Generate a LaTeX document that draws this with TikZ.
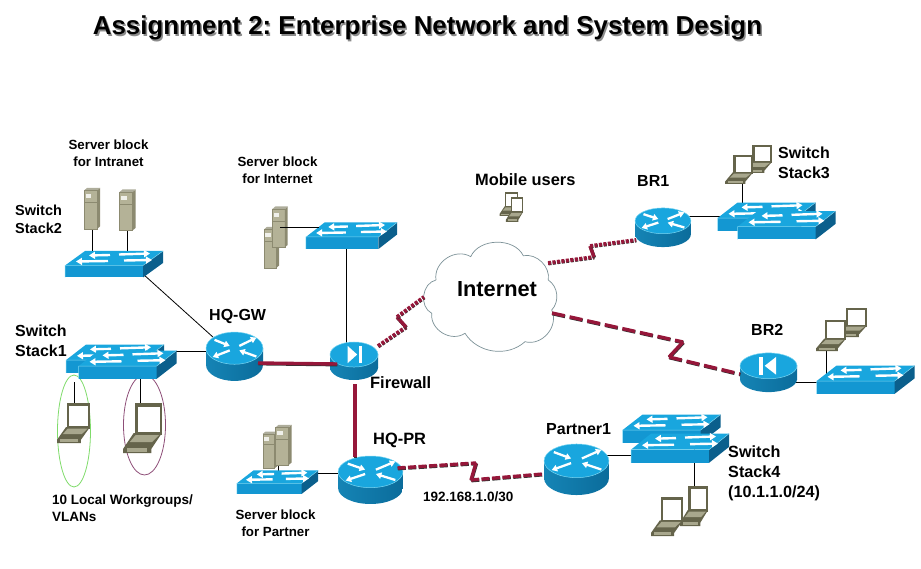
\documentclass[tikz,border=0pt]{standalone}
\usepackage{fontspec}
\setmainfont{Liberation Sans}
\usetikzlibrary{arrows.meta,backgrounds}

\definecolor{swtop}{HTML}{19A6DE}
\definecolor{swfront}{HTML}{1397D2}
\definecolor{swside}{HTML}{0B5F8C}
\definecolor{rim}{HTML}{7AD6F2}
\definecolor{rtleft}{HTML}{1584B5}
\definecolor{rtright}{HTML}{0B6C9B}
\definecolor{khaki}{HTML}{B4B297}
\definecolor{khakidark}{HTML}{8C8A70}
\definecolor{olive}{HTML}{65644B}
\definecolor{keys}{HTML}{A8A78D}
\definecolor{wanred}{HTML}{96173A}
\definecolor{cloudline}{HTML}{7D9298}
\definecolor{ringgreen}{HTML}{7FDB6A}
\definecolor{ringpurple}{HTML}{8E4E78}

\tikzset{
  lbl/.style n args={2}{font=\bfseries\fontsize{#1}{#2}\selectfont,inner sep=0pt,align=left},
  lan/.style={draw=black,line width=.8pt},
  wan/.style={draw=wanred,line width=3.4pt,dash pattern=#1,
    preaction={draw=black!80,line width=3.4pt,dash pattern=#1,transform canvas={shift={(.4pt,-.7pt)}}}},
  wan/.default={on 2000pt off 0pt},
  wandot/.style={wan={on 3pt off 1.5pt},line width=3.8pt},
  wandash/.style={wan={on 13pt off 5pt}},
  wanshort/.style={wan={on 8pt off 2.5pt}},
  whitearrow/.style={draw=white,line width=2.3pt,-{Triangle[width=6.5pt,length=5.5pt]}},
  swarrow/.style={whitearrow,line width=2.4pt,-{Triangle[width=7pt,length=6pt]}},
  switch/.pic={
    \coordinate (-c) at (0,0);
    \fill[swtop] (-49,1.5) -- (29,1.5) -- (49,-13) -- (-29,-13) -- cycle;
    \fill[swfront] (-49,1.5) rectangle (29,13.5);
    \fill[swside] (29,1.5) -- (49,-13) -- (49,-1) -- (29,13.5) -- cycle;
    \draw[rim,line width=.5pt] (-49,13.5) -- (-49,1.5) -- (29,1.5) -- (49,-13);
    \draw[swarrow] (-4,-9) -- (-25,-8.5);
    \draw[swarrow] (5,-9.5) -- (36,-10.5);
    \draw[swarrow] (-6,-3) -- (-38,-2.5);
    \draw[swarrow] (10,-3.5) -- (38,-4);
  },
  cylinder base/.pic={
    \shade[left color=rtleft,right color=rtright] (0,7.5) ellipse (30 and 14.5);
    \shade[left color=rtleft,right color=rtright] (-30,-7.5) rectangle (30,7.5);
    \fill[swtop] (0,-7.5) ellipse (30 and 14.5);
    \draw[rim,line width=.5pt] (0,-7.5) ellipse (30 and 14.5);
  },
  router/.pic={
    \pic[transform shape] {cylinder base};
    \coordinate (-c) at (0,0);
    \draw[whitearrow] (-21,-15) -- (-5,-9.5);
    \draw[whitearrow] (5,-9.5) -- (23,-17);
    \draw[whitearrow] (-5,-5.5) -- (-23,.5);
    \draw[whitearrow] (23,0) -- (5,-5.5);
  },
  vpn/.pic={
    \pic[transform shape] {cylinder base};
    \coordinate (-c) at (0,0);
    \fill[white] (-8,-17.5) -- (4,-7.5) -- (-8,2.5) -- cycle;
    \fill[white] (6.3,-17.5) rectangle (10,2.5);
  },
  server/.pic={
    \coordinate (-c) at (0,0);
    \fill[khaki] (-8,-18) rectangle (5,20.5);
    \fill[khakidark] (5,-18) -- (8,-20.5) -- (8,18) -- (5,20.5) -- cycle;
    \fill[khakidark!70] (-8,-18) -- (-5,-20.5) -- (8,-20.5) -- (5,-18) -- cycle;
    \fill[white!80!khaki] (-6.5,-14) rectangle (-1,-10);
    \draw[khakidark,line width=.6pt] (-8,-6) -- (5,-6);
    \draw[khakidark,line width=.4pt] (-8,-18) rectangle (5,20.5);
  },
  laptop/.pic={
    \coordinate (-c) at (0,0);
    \fill[olive] (-8,-25) rectangle (20,7);
    \fill[white] (-5,-21.5) rectangle (17.5,4);
    \fill[olive] (-9,5) -- (20,5) -- (9,21) -- (9,25) -- (-20,25) -- (-20,21) -- cycle;
    \fill[keys] (-7,7) -- (17,7) -- (10,14) -- (-13,14) -- cycle;
    \fill[keys] (-16,20) -- (5,20) -- (5,23.5) -- (-16,23.5) -- cycle;
  },
}

\begin{document}
\frenchspacing
\begin{tikzpicture}[x=1pt,y=-1pt]
\useasboundingbox (0,0) rectangle (921,569);

% Title
\node[lbl={25.9}{30},text=black!45] (titleshadow) at (429,29.5) {Assignment 2: Enterprise Network and System Design};
\node[lbl={25.9}{30}] (title) at (427.5,28) {Assignment 2: Enterprise Network and System Design};

% Cloud
\coordinate (v1) at (436,280);
\coordinate (v2) at (470.7,256.7);
\coordinate (v3) at (523.3,255.7);
\coordinate (v4) at (548.3,280);
\coordinate (v5) at (551.7,310);
\coordinate (v6) at (525,341.7);
\coordinate (v7) at (465,333.3);
\coordinate (v8) at (431.7,313.3);
\draw[cloudline,line width=.7pt,fill=white]
  (v1) to[bend left=65,looseness=1.1] (v2)
  to[bend left=65,looseness=1] (v3)
  to[bend left=55,looseness=1] (v4)
  to[bend left=50,looseness=1] (v5)
  to[bend left=65,looseness=1.1] (v6)
  to[bend left=50,looseness=1] (v7)
  to[bend left=65,looseness=1.1] (v8)
  to[bend left=70,looseness=1.1] (v1);
\node[lbl={21.8}{26}] (internet) at (497,289) {Internet};

% Servers
\pic (srv1) at (92,208.5) {server};
\pic (srv2) at (127.5,210) {server};
\pic (isrv1) [xscale=.95] at (271.5,247.5) {server};
\pic (isrv2) [xscale=.95] at (280,227) {server};
\pic (psrv1) [xscale=.9,yscale=.9] at (270,450) {server};
\pic (psrv2) [yscale=.98] at (283.5,445) {server};

% Switches
\pic (sw2) at (114,264) {switch};
\pic (isw) [xscale=.93] at (351.5,235.5) {switch};
\pic (s1b) [yscale=1.07] at (115,358.5) {switch};
\pic (s1f) [yscale=1.07] at (127.5,364.5) {switch};
\pic (s3b) [yscale=1.07] at (766.5,216.5) {switch};
\pic (s3f) [yscale=1.07] at (786.5,225) {switch};
\pic (br2sw) [yscale=1.07] at (865.5,379.5) {switch};
\pic (s4b) [yscale=1.07] at (671.5,428.5) {switch};
\pic (s4f) [yscale=1.1] at (680,448) {switch};
\pic (psw) [scale=.83,yscale=1.07] at (277.5,482) {switch};

% Routers
\pic (gw) [xscale=.95,yscale=1.11] at (234.5,356.5) {router};
\pic (fw) [xscale=.8,yscale=.864] at (354,361) {vpn};
\pic (pr) [xscale=1.08,yscale=1.09] at (370.5,480) {router};
\pic (p1) [xscale=1.08,yscale=1.16] at (576.5,469.5) {router};
\pic (br1) [xscale=.93,yscale=.89] at (663,227.5) {router};
\pic (br2) [xscale=-.95,yscale=.89] at (768.5,372.5) {vpn};

% Laptops
\pic (lap1) [xscale=.825,yscale=.8] at (73.5,423) {laptop};
\pic (lap2) [xscale=.975] at (142.5,428) {laptop};
\pic (mob1) [xscale=.46,yscale=.48] at (508.7,204) {laptop};
\pic (mob2) [xscale=.43,yscale=.5] at (514.4,209.5) {laptop};
\pic (s3lapb) [xscale=.7,yscale=.56] at (758,159) {laptop};
\pic (s3lapf) [xscale=.7,yscale=.58] at (739,169.5) {laptop};
\pic (br2lapb) [xscale=.75,yscale=.58] at (852,322.5) {laptop};
\pic (br2lapf) [xscale=.75,yscale=.62] at (831,335.5) {laptop};
\pic (s4lapb) [xscale=.7,yscale=.8] at (694,506) {laptop};
\pic (s4lapf) [xscale=.8,yscale=.78] at (667,516.5) {laptop};

% LAN links and VLAN rings, under the devices
\begin{scope}[on background layer]
  \draw[ringgreen,line width=.8pt] (74,431) ellipse (16.5 and 56);
  \draw[ringpurple,line width=.8pt] (144.5,425) ellipse (21 and 50);
  \draw[lan] (srv1-c) -- (srv1-c |- sw2-c);
  \draw[lan] (srv2-c) -- (srv2-c |- sw2-c);
  \draw[lan] ([shift={(29,10)}]sw2-c) -- (gw-c);
  \draw[lan] ([yshift=13.5pt]s1f-c) -- ([yshift=13.5pt]s1f-c -| gw-c);
  \draw[lan] ([shift={(.5,-41)}]lap1-c) -- ([xshift=.5pt]lap1-c);
  \draw[lan] ([shift={(-2.5,-49)}]lap2-c) -- ([xshift=-2.5pt]lap2-c);
  \draw[lan] (br1-c |- s3b-c) -- (s3b-c);
  \draw[lan] ([xshift=3pt]s3lapf-c) -- ([xshift=3pt]s3lapf-c |- s3b-c);
  \draw[lan] ([yshift=-2.5pt]br2sw-c) -- ([yshift=-2.5pt]br2sw-c -| br2-c);
  \draw[lan] ([xshift=-5pt]br2lapf-c) -- ([xshift=-5pt]br2lapf-c |- br2sw-c);
  \draw[lan] ([yshift=-7pt]s4f-c) -- ([yshift=-7pt]s4f-c -| p1-c);
  \draw[lan] (s4lapb-c) -- (s4lapb-c |- s4f-c);
  \draw[lan] ([yshift=7pt]pr-c) -- ([yshift=7pt]pr-c -| psw-c);
  \draw[lan] ([xshift=.5pt]psw-c) -- ([xshift=.5pt]psw-c |- psrv1-c);
  \draw[lan] ([shift={(-7.3,0)}]fw-c) -- ([shift={(-7.3,0)}]fw-c |- isw-c);
\end{scope}
\draw[lan] (isrv2-c) -- ([shift={(-33,-8.5)}]isw-c);

% WAN links
\coordinate (fwz1) at (406,327);
\coordinate (fwz2) at (397,317);
\coordinate (cloudw) at (424,297);
\coordinate (cloudne) at (548,263);
\coordinate (cloudse) at (552,313);
\coordinate (br1z1) at (594,257);
\coordinate (br1z2) at (590,246);
\coordinate (br2z1) at (683,342);
\coordinate (br2z2) at (669,357);
\coordinate (prz1) at (476,463);
\coordinate (prz2) at (471,480);

\draw[wan] ([shift={(23.5,6.5)}]gw-c) -- ([shift={(-17,3)}]fw-c);
\draw[wan] ([shift={(1,23)}]fw-c) -- ([shift={(1,96)}]fw-c);

\draw[wandot] ([shift={(24,-15)}]fw-c) -- (fwz1);
\draw[wan] (fwz1) -- (fwz2);
\draw[wandot] (fwz2) -- (cloudw);

\draw[wandot] (cloudne) -- (br1z1);
\draw[wan] (br1z1) -- (br1z2);
\draw[wandot] (br1z2) -- ([shift={(-27,12.5)}]br1-c);

\draw[wandash] (cloudse) -- (br2z1);
\draw[wan] (br2z1) -- (br2z2);
\draw[wandash] (br2z2) -- ([shift={(-28.5,1.5)}]br2-c);

\draw[wanshort] ([shift={(27,-12)}]pr-c) -- (prz1);
\draw[wan] (prz1) -- (prz2);
\draw[wanshort] (prz2) -- ([shift={(-33.5,4.5)}]p1-c);

% Labels
\node[lbl={13.3}{17},align=center] (lsrv) at (108.5,153.5) {Server block\\for Intranet};
\node[lbl={14.5}{18},anchor=west] (lst2) at (15,219.5) {Switch\\Stack2};
\node[lbl={13.3}{17},align=center] (lsin) at (277.5,170) {Server block\\for Internet};
\node[lbl={16}{20},anchor=west] (lst1) at (15,341) {Switch\\Stack1};
\node[lbl={16}{20},anchor=west] (lgw) at (209,316.5) {HQ-GW};
\node[lbl={16.4}{20},anchor=west] (lmob) at (475,180) {Mobile users};
\node[lbl={16}{20},anchor=west] (lbr1) at (637,181) {BR1};
\node[lbl={16}{20},anchor=west] (lst3) at (778,163) {Switch\\Stack3};
\node[lbl={16}{20},anchor=west] (lbr2) at (751,330) {BR2};
\node[lbl={16.4}{20},anchor=west] (lfw) at (370,383) {Firewall};
\node[lbl={16.4}{20},anchor=west] (lpr) at (373,440) {HQ-PR};
\node[lbl={16}{20},anchor=west] (lp1) at (546,429) {Partner1};
\node[lbl={16.2}{20},anchor=west] (lst4) at (728,473.5) {Switch\\Stack4\\(10.1.1.0/24)};
\node[lbl={13.5}{17},anchor=west] (lip) at (423,497) {192.168.1.0/30};
\node[lbl={13.5}{17},anchor=west] (lvl) at (52,508.5) {10 Local Workgroups/\\VLANs};
\node[lbl={13.3}{17},align=center] (lsp) at (275.5,523) {Server block\\for Partner};
\end{tikzpicture}
\end{document}
